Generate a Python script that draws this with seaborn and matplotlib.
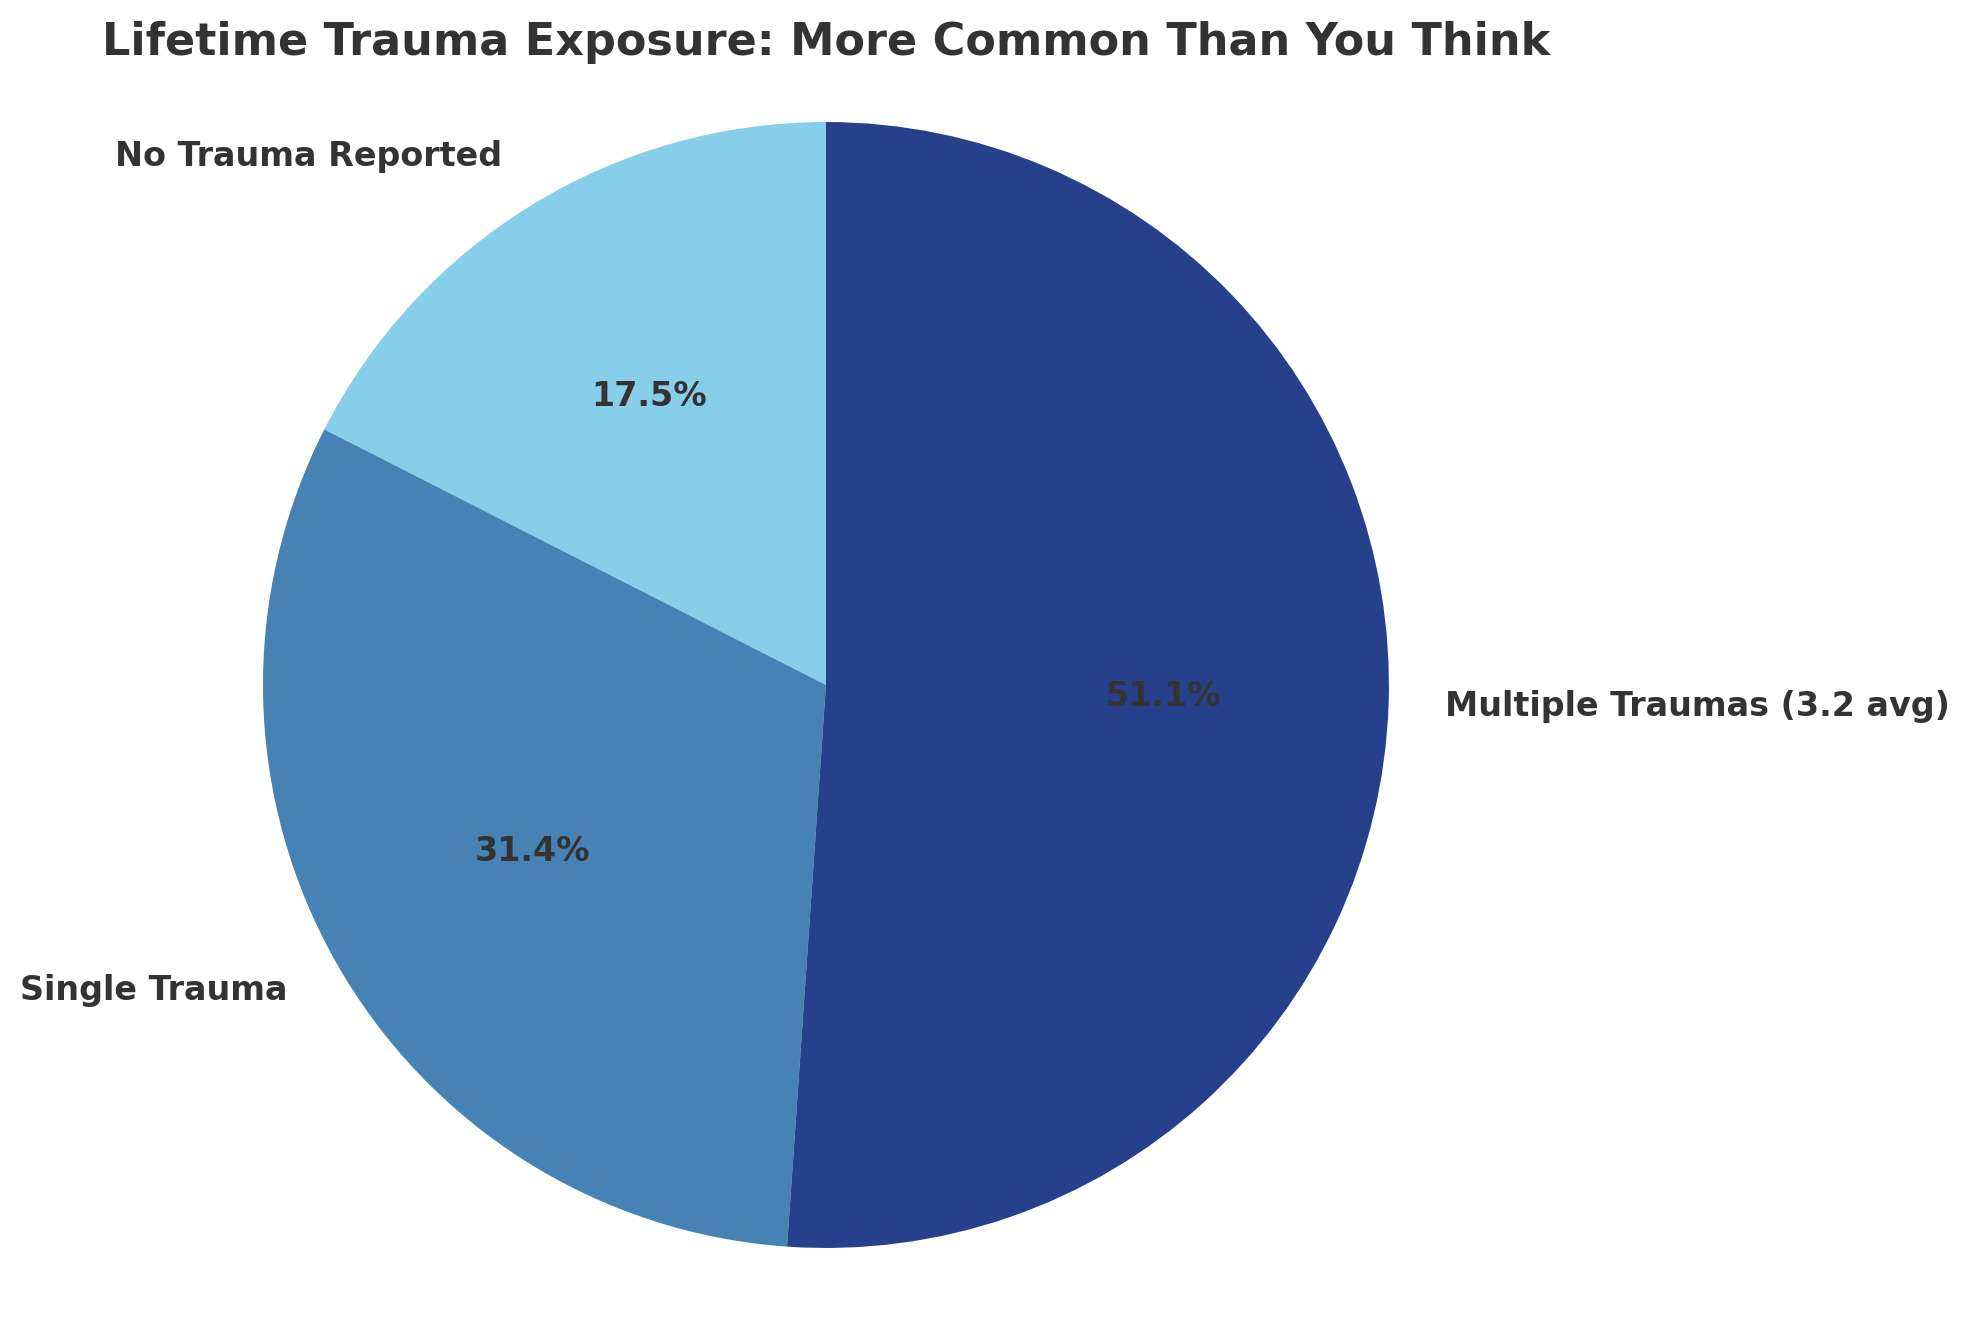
import matplotlib
matplotlib.use("Agg")
import matplotlib.pyplot as plt
import seaborn as sns

# data
categories = ["No Trauma Reported", "Single Trauma", "Multiple Traumas (3.2 avg)"]
shares = [17.5, 31.4, 51.1]
slice_colors = ["#87CEEB", "#4682B4", "#26408B"]

sns.set_theme(style="white")
plt.rcParams["font.family"] = ["DejaVu Sans"]

fig = plt.figure(figsize=(9.855, 6.61), dpi=200)
ax = fig.add_axes([0.1334, 0.056, 0.5713, 0.8517])

wedges, texts, autotexts = ax.pie(
    shares,
    labels=categories,
    colors=slice_colors,
    startangle=90,
    autopct="%1.1f%%",
    pctdistance=0.6,
    labeldistance=1.1,
    wedgeprops={"linewidth": 0},
    textprops={"fontsize": 12, "fontweight": "bold", "color": "#333333"},
)
ax.set_xlim(-1, 1)
ax.set_ylim(-1, 1)
ax.set_aspect("equal")
ax.axis("off")

ax.set_title(
    "Lifetime Trauma Exposure: More Common Than You Think",
    fontsize=16,
    fontweight="bold",
    color="#333333",
    pad=24,
)

fig.savefig("out.png", dpi=200)
plt.close(fig)
